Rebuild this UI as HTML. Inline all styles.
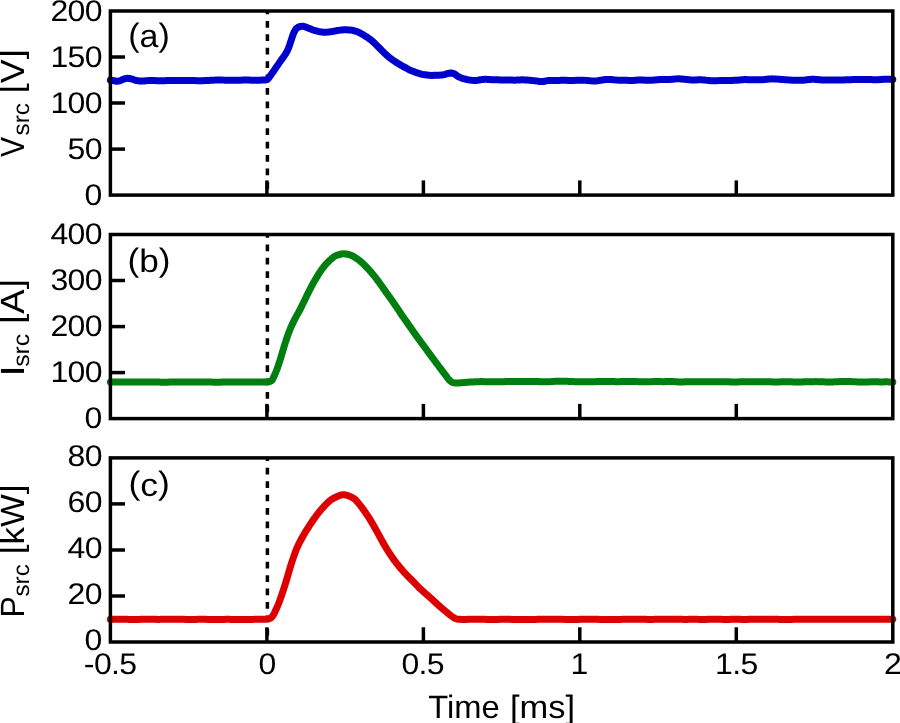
<!DOCTYPE html>
<html lang="en">
<head>
<meta charset="utf-8">
<title>Source voltage, current and power</title>
<style>
html,body{margin:0;padding:0;background:#fff;}
body{width:900px;height:723px;overflow:hidden;}
svg{display:block;}
text{font-family:"Liberation Sans",sans-serif;fill:#000;text-rendering:geometricPrecision;}
.tk{font-size:29.9px;letter-spacing:-0.6px;}
.lb{font-size:32.3px;}
.ly{font-size:33.6px;}
.sb{font-size:23.2px;}
</style>
</head>
<body>
<svg width="900" height="723" viewBox="0 0 900 723">
<rect width="900" height="723" fill="#fff"/>
<line x1="267.4" y1="11.0" x2="267.4" y2="195.1" stroke="#000" stroke-width="3.5" stroke-dasharray="6.71 6.71" stroke-dashoffset="3.5"/>
<line x1="266.9" y1="195.1" x2="266.9" y2="180.4" stroke="#000" stroke-width="3.5"/>
<line x1="423.4" y1="195.1" x2="423.4" y2="180.4" stroke="#000" stroke-width="3.5"/>
<line x1="579.8" y1="195.1" x2="579.8" y2="180.4" stroke="#000" stroke-width="3.5"/>
<line x1="736.3" y1="195.1" x2="736.3" y2="180.4" stroke="#000" stroke-width="3.5"/>
<text class="tk" transform="translate(84.62,205.22) scale(1.070,1)">0</text>
<line x1="110.4" y1="149.1" x2="125.0" y2="149.1" stroke="#000" stroke-width="3.5"/>
<text class="tk" transform="translate(67.50,159.19) scale(1.070,1)">50</text>
<line x1="110.4" y1="103.0" x2="125.0" y2="103.0" stroke="#000" stroke-width="3.5"/>
<text class="tk" transform="translate(50.38,113.17) scale(1.070,1)">100</text>
<line x1="110.4" y1="57.0" x2="125.0" y2="57.0" stroke="#000" stroke-width="3.5"/>
<text class="tk" transform="translate(50.38,67.15) scale(1.070,1)">150</text>
<text class="tk" transform="translate(50.38,20.52) scale(1.070,1)">200</text>
<path d="M110.4,80.10 L111.4,80.27 L112.4,80.44 L113.4,80.62 L114.4,80.79 L115.4,81.01 L116.4,81.18 L117.4,81.19 L118.4,81.05 L119.4,80.82 L120.4,80.54 L121.4,80.09 L122.4,79.61 L123.4,79.25 L124.4,78.92 L125.4,78.63 L126.4,78.40 L127.4,78.30 L128.4,78.34 L129.4,78.50 L130.4,78.72 L131.4,78.97 L132.4,79.22 L133.4,79.57 L134.4,79.96 L135.4,80.29 L136.4,80.49 L137.4,80.65 L138.4,80.80 L139.4,80.91 L140.4,80.97 L141.4,81.00 L142.4,81.00 L143.4,80.96 L144.4,80.90 L145.4,80.81 L146.4,80.72 L147.4,80.63 L148.4,80.55 L149.4,80.49 L150.4,80.47 L151.4,80.46 L152.4,80.47 L153.4,80.50 L154.4,80.54 L155.4,80.59 L156.4,80.64 L157.4,80.68 L158.4,80.72 L159.4,80.74 L160.4,80.75 L161.4,80.75 L162.4,80.73 L163.4,80.71 L164.4,80.68 L165.4,80.64 L166.4,80.60 L167.4,80.57 L168.4,80.53 L169.4,80.50 L170.4,80.48 L171.4,80.46 L172.4,80.46 L173.4,80.47 L174.4,80.48 L175.4,80.50 L176.4,80.53 L177.4,80.55 L178.4,80.58 L179.4,80.60 L180.4,80.61 L181.4,80.62 L182.4,80.62 L183.4,80.61 L184.4,80.59 L185.4,80.56 L186.4,80.53 L187.4,80.50 L188.4,80.48 L189.4,80.46 L190.4,80.45 L191.4,80.46 L192.4,80.48 L193.4,80.52 L194.4,80.56 L195.4,80.61 L196.4,80.66 L197.4,80.70 L198.4,80.73 L199.4,80.75 L200.4,80.74 L201.4,80.72 L202.4,80.69 L203.4,80.65 L204.4,80.61 L205.4,80.57 L206.4,80.53 L207.4,80.49 L208.4,80.44 L209.4,80.40 L210.4,80.35 L211.4,80.31 L212.4,80.25 L213.4,80.19 L214.4,80.12 L215.4,80.05 L216.4,79.99 L217.4,79.95 L218.4,79.94 L219.4,79.94 L220.4,79.97 L221.4,80.01 L222.4,80.06 L223.4,80.12 L224.4,80.17 L225.4,80.22 L226.4,80.26 L227.4,80.29 L228.4,80.31 L229.4,80.32 L230.4,80.31 L231.4,80.29 L232.4,80.28 L233.4,80.26 L234.4,80.25 L235.4,80.23 L236.4,80.21 L237.4,80.19 L238.4,80.18 L239.4,80.16 L240.4,80.14 L241.4,80.13 L242.4,80.11 L243.4,80.09 L244.4,80.07 L245.4,80.06 L246.4,80.05 L247.4,80.06 L248.4,80.08 L249.4,80.10 L250.4,80.14 L251.4,80.17 L252.4,80.21 L253.4,80.23 L254.4,80.25 L255.4,80.25 L256.4,80.24 L257.4,80.22 L258.4,80.19 L259.4,80.16 L260.4,80.13 L261.4,80.11 L262.4,80.09 L263.4,80.06 L264.4,80.03 L265.4,79.98 L266.4,79.83 L267.4,79.46 L268.4,78.32 L269.4,77.05 L270.4,75.71 L271.4,74.30 L272.4,72.85 L273.4,71.40 L274.4,69.96 L275.4,68.53 L276.4,67.08 L277.4,65.60 L278.4,64.12 L279.4,62.63 L280.4,61.15 L281.4,59.75 L282.4,58.40 L283.4,57.06 L284.4,55.67 L285.4,54.17 L286.4,52.49 L287.4,50.55 L288.4,48.33 L289.4,45.67 L290.4,42.65 L291.4,39.65 L292.4,36.49 L293.4,33.70 L294.4,31.58 L295.4,29.76 L296.4,28.45 L297.4,27.69 L298.4,27.12 L299.4,26.74 L300.4,26.50 L301.4,26.33 L302.4,26.25 L303.4,26.32 L304.4,26.55 L305.4,26.89 L306.4,27.30 L307.4,27.73 L308.4,28.11 L309.4,28.49 L310.4,28.88 L311.4,29.28 L312.4,29.66 L313.4,30.02 L314.4,30.34 L315.4,30.63 L316.4,30.92 L317.4,31.21 L318.4,31.47 L319.4,31.69 L320.4,31.85 L321.4,31.97 L322.4,32.09 L323.4,32.18 L324.4,32.24 L325.4,32.25 L326.4,32.21 L327.4,32.13 L328.4,32.03 L329.4,31.91 L330.4,31.78 L331.4,31.65 L332.4,31.48 L333.4,31.30 L334.4,31.09 L335.4,30.89 L336.4,30.70 L337.4,30.54 L338.4,30.40 L339.4,30.26 L340.4,30.13 L341.4,30.00 L342.4,29.90 L343.4,29.84 L344.4,29.82 L345.4,29.83 L346.4,29.84 L347.4,29.87 L348.4,29.90 L349.4,29.94 L350.4,29.99 L351.4,30.11 L352.4,30.29 L353.4,30.52 L354.4,30.80 L355.4,31.10 L356.4,31.41 L357.4,31.74 L358.4,32.15 L359.4,32.63 L360.4,33.17 L361.4,33.75 L362.4,34.35 L363.4,34.95 L364.4,35.54 L365.4,36.15 L366.4,36.79 L367.4,37.45 L368.4,38.13 L369.4,38.85 L370.4,39.58 L371.4,40.36 L372.4,41.20 L373.4,42.09 L374.4,43.03 L375.4,44.00 L376.4,44.98 L377.4,45.96 L378.4,46.96 L379.4,47.98 L380.4,49.02 L381.4,50.06 L382.4,51.08 L383.4,52.08 L384.4,53.05 L385.4,53.97 L386.4,54.88 L387.4,55.77 L388.4,56.64 L389.4,57.48 L390.4,58.29 L391.4,59.05 L392.4,59.78 L393.4,60.47 L394.4,61.14 L395.4,61.79 L396.4,62.43 L397.4,63.05 L398.4,63.67 L399.4,64.28 L400.4,64.87 L401.4,65.46 L402.4,66.03 L403.4,66.58 L404.4,67.13 L405.4,67.67 L406.4,68.20 L407.4,68.74 L408.4,69.27 L409.4,69.77 L410.4,70.25 L411.4,70.70 L412.4,71.11 L413.4,71.50 L414.4,71.88 L415.4,72.25 L416.4,72.60 L417.4,72.94 L418.4,73.25 L419.4,73.55 L420.4,73.84 L421.4,74.12 L422.4,74.36 L423.4,74.56 L424.4,74.72 L425.4,74.84 L426.4,74.96 L427.4,75.08 L428.4,75.19 L429.4,75.28 L430.4,75.35 L431.4,75.39 L432.4,75.38 L433.4,75.36 L434.4,75.33 L435.4,75.29 L436.4,75.26 L437.4,75.23 L438.4,75.20 L439.4,75.17 L440.4,75.12 L441.4,75.04 L442.4,74.94 L443.4,74.79 L444.4,74.58 L445.4,74.25 L446.4,73.89 L447.4,73.59 L448.4,73.38 L449.4,73.19 L450.4,73.06 L451.4,73.05 L452.4,73.22 L453.4,73.52 L454.4,73.89 L455.4,74.47 L456.4,75.26 L457.4,76.06 L458.4,76.68 L459.4,77.17 L460.4,77.61 L461.4,78.01 L462.4,78.36 L463.4,78.67 L464.4,78.95 L465.4,79.21 L466.4,79.45 L467.4,79.66 L468.4,79.85 L469.4,80.01 L470.4,80.14 L471.4,80.25 L472.4,80.36 L473.4,80.46 L474.4,80.53 L475.4,80.57 L476.4,80.54 L477.4,80.40 L478.4,80.19 L479.4,79.97 L480.4,79.76 L481.4,79.63 L482.4,79.52 L483.4,79.42 L484.4,79.36 L485.4,79.33 L486.4,79.35 L487.4,79.39 L488.4,79.45 L489.4,79.51 L490.4,79.58 L491.4,79.63 L492.4,79.68 L493.4,79.73 L494.4,79.76 L495.4,79.79 L496.4,79.82 L497.4,79.85 L498.4,79.87 L499.4,79.90 L500.4,79.92 L501.4,79.93 L502.4,79.94 L503.4,79.94 L504.4,79.94 L505.4,79.95 L506.4,79.96 L507.4,79.98 L508.4,80.01 L509.4,80.04 L510.4,80.06 L511.4,80.09 L512.4,80.12 L513.4,80.14 L514.4,80.14 L515.4,80.13 L516.4,80.10 L517.4,80.06 L518.4,80.00 L519.4,79.95 L520.4,79.90 L521.4,79.87 L522.4,79.86 L523.4,79.87 L524.4,79.90 L525.4,79.94 L526.4,80.00 L527.4,80.07 L528.4,80.15 L529.4,80.24 L530.4,80.33 L531.4,80.42 L532.4,80.51 L533.4,80.61 L534.4,80.71 L535.4,80.81 L536.4,80.95 L537.4,81.12 L538.4,81.29 L539.4,81.44 L540.4,81.55 L541.4,81.60 L542.4,81.57 L543.4,81.46 L544.4,81.29 L545.4,81.07 L546.4,80.85 L547.4,80.65 L548.4,80.49 L549.4,80.40 L550.4,80.38 L551.4,80.39 L552.4,80.41 L553.4,80.44 L554.4,80.46 L555.4,80.47 L556.4,80.47 L557.4,80.46 L558.4,80.43 L559.4,80.39 L560.4,80.34 L561.4,80.30 L562.4,80.26 L563.4,80.25 L564.4,80.26 L565.4,80.29 L566.4,80.34 L567.4,80.39 L568.4,80.45 L569.4,80.49 L570.4,80.51 L571.4,80.51 L572.4,80.48 L573.4,80.44 L574.4,80.39 L575.4,80.33 L576.4,80.27 L577.4,80.23 L578.4,80.19 L579.4,80.16 L580.4,80.15 L581.4,80.16 L582.4,80.19 L583.4,80.24 L584.4,80.30 L585.4,80.37 L586.4,80.45 L587.4,80.54 L588.4,80.63 L589.4,80.72 L590.4,80.81 L591.4,80.88 L592.4,80.95 L593.4,80.99 L594.4,81.00 L595.4,80.98 L596.4,80.91 L597.4,80.79 L598.4,80.64 L599.4,80.47 L600.4,80.29 L601.4,80.12 L602.4,79.95 L603.4,79.80 L604.4,79.67 L605.4,79.56 L606.4,79.49 L607.4,79.45 L608.4,79.45 L609.4,79.47 L610.4,79.52 L611.4,79.58 L612.4,79.66 L613.4,79.76 L614.4,79.86 L615.4,79.95 L616.4,80.04 L617.4,80.12 L618.4,80.18 L619.4,80.21 L620.4,80.22 L621.4,80.22 L622.4,80.23 L623.4,80.24 L624.4,80.26 L625.4,80.29 L626.4,80.32 L627.4,80.35 L628.4,80.38 L629.4,80.41 L630.4,80.42 L631.4,80.43 L632.4,80.42 L633.4,80.39 L634.4,80.34 L635.4,80.27 L636.4,80.19 L637.4,80.11 L638.4,80.03 L639.4,79.98 L640.4,79.96 L641.4,79.97 L642.4,80.01 L643.4,80.07 L644.4,80.14 L645.4,80.21 L646.4,80.27 L647.4,80.31 L648.4,80.33 L649.4,80.32 L650.4,80.28 L651.4,80.23 L652.4,80.16 L653.4,80.08 L654.4,80.00 L655.4,79.91 L656.4,79.82 L657.4,79.74 L658.4,79.66 L659.4,79.59 L660.4,79.54 L661.4,79.51 L662.4,79.49 L663.4,79.49 L664.4,79.49 L665.4,79.50 L666.4,79.51 L667.4,79.50 L668.4,79.48 L669.4,79.45 L670.4,79.41 L671.4,79.34 L672.4,79.25 L673.4,79.15 L674.4,79.04 L675.4,78.95 L676.4,78.87 L677.4,78.81 L678.4,78.79 L679.4,78.82 L680.4,78.89 L681.4,78.98 L682.4,79.08 L683.4,79.18 L684.4,79.28 L685.4,79.37 L686.4,79.44 L687.4,79.54 L688.4,79.65 L689.4,79.77 L690.4,79.89 L691.4,79.98 L692.4,80.04 L693.4,80.06 L694.4,80.04 L695.4,79.98 L696.4,79.91 L697.4,79.85 L698.4,79.81 L699.4,79.78 L700.4,79.79 L701.4,79.82 L702.4,79.87 L703.4,79.95 L704.4,80.04 L705.4,80.14 L706.4,80.25 L707.4,80.36 L708.4,80.46 L709.4,80.56 L710.4,80.65 L711.4,80.72 L712.4,80.77 L713.4,80.80 L714.4,80.80 L715.4,80.78 L716.4,80.74 L717.4,80.68 L718.4,80.62 L719.4,80.56 L720.4,80.51 L721.4,80.47 L722.4,80.46 L723.4,80.46 L724.4,80.47 L725.4,80.48 L726.4,80.50 L727.4,80.51 L728.4,80.51 L729.4,80.50 L730.4,80.47 L731.4,80.43 L732.4,80.39 L733.4,80.34 L734.4,80.29 L735.4,80.25 L736.4,80.20 L737.4,80.14 L738.4,80.07 L739.4,79.99 L740.4,79.90 L741.4,79.81 L742.4,79.72 L743.4,79.66 L744.4,79.61 L745.4,79.59 L746.4,79.60 L747.4,79.63 L748.4,79.68 L749.4,79.72 L750.4,79.75 L751.4,79.77 L752.4,79.78 L753.4,79.77 L754.4,79.76 L755.4,79.76 L756.4,79.76 L757.4,79.77 L758.4,79.78 L759.4,79.79 L760.4,79.79 L761.4,79.76 L762.4,79.71 L763.4,79.64 L764.4,79.54 L765.4,79.44 L766.4,79.32 L767.4,79.21 L768.4,79.10 L769.4,79.00 L770.4,78.93 L771.4,78.88 L772.4,78.87 L773.4,78.88 L774.4,78.92 L775.4,78.98 L776.4,79.05 L777.4,79.13 L778.4,79.21 L779.4,79.28 L780.4,79.36 L781.4,79.43 L782.4,79.51 L783.4,79.58 L784.4,79.66 L785.4,79.73 L786.4,79.80 L787.4,79.88 L788.4,79.95 L789.4,80.03 L790.4,80.10 L791.4,80.17 L792.4,80.22 L793.4,80.27 L794.4,80.30 L795.4,80.31 L796.4,80.31 L797.4,80.31 L798.4,80.30 L799.4,80.29 L800.4,80.28 L801.4,80.25 L802.4,80.22 L803.4,80.16 L804.4,80.08 L805.4,79.98 L806.4,79.86 L807.4,79.72 L808.4,79.60 L809.4,79.48 L810.4,79.39 L811.4,79.32 L812.4,79.29 L813.4,79.30 L814.4,79.34 L815.4,79.41 L816.4,79.50 L817.4,79.60 L818.4,79.69 L819.4,79.79 L820.4,79.86 L821.4,79.92 L822.4,79.95 L823.4,79.97 L824.4,79.97 L825.4,79.97 L826.4,79.97 L827.4,79.97 L828.4,79.98 L829.4,79.98 L830.4,79.98 L831.4,79.97 L832.4,79.96 L833.4,79.94 L834.4,79.93 L835.4,79.93 L836.4,79.94 L837.4,79.96 L838.4,79.98 L839.4,80.00 L840.4,80.01 L841.4,80.00 L842.4,79.98 L843.4,79.95 L844.4,79.90 L845.4,79.85 L846.4,79.80 L847.4,79.75 L848.4,79.70 L849.4,79.67 L850.4,79.64 L851.4,79.63 L852.4,79.62 L853.4,79.62 L854.4,79.62 L855.4,79.61 L856.4,79.60 L857.4,79.58 L858.4,79.56 L859.4,79.55 L860.4,79.54 L861.4,79.53 L862.4,79.53 L863.4,79.53 L864.4,79.53 L865.4,79.53 L866.4,79.53 L867.4,79.53 L868.4,79.54 L869.4,79.55 L870.4,79.58 L871.4,79.60 L872.4,79.63 L873.4,79.66 L874.4,79.69 L875.4,79.70 L876.4,79.70 L877.4,79.69 L878.4,79.66 L879.4,79.61 L880.4,79.55 L881.4,79.48 L882.4,79.40 L883.4,79.32 L884.4,79.26 L885.4,79.21 L886.4,79.18 L887.4,79.18 L888.4,79.21 L889.4,79.25 L890.4,79.31 L891.4,79.36 L892.8,79.40" fill="none" stroke="#0000cd" stroke-width="7.0" stroke-linecap="round" stroke-linejoin="round"/>
<rect x="110.4" y="11.0" width="782.4" height="184.1" fill="none" stroke="#000" stroke-width="3.5"/>
<text class="lb" transform="translate(128.30,47.45) scale(1.051,1)"><tspan dy="-1.3">(</tspan><tspan dy="1.3">a</tspan><tspan dy="-1.3">)</tspan></text>
<text class="ly" transform="translate(23.60,157.01) rotate(-90) scale(0.899,1)">V</text>
<text class="sb" transform="translate(28.60,135.46) rotate(-90) scale(1.050,1)">src</text>
<text class="ly" transform="translate(23.60,93.24) rotate(-90) scale(1.068,1)"><tspan dy="-2">[</tspan><tspan dy="2">V</tspan><tspan dy="-2">]</tspan></text>
<line x1="267.4" y1="234.5" x2="267.4" y2="418.6" stroke="#000" stroke-width="3.5" stroke-dasharray="6.71 6.71" stroke-dashoffset="3.5"/>
<line x1="266.9" y1="418.6" x2="266.9" y2="403.9" stroke="#000" stroke-width="3.5"/>
<line x1="423.4" y1="418.6" x2="423.4" y2="403.9" stroke="#000" stroke-width="3.5"/>
<line x1="579.8" y1="418.6" x2="579.8" y2="403.9" stroke="#000" stroke-width="3.5"/>
<line x1="736.3" y1="418.6" x2="736.3" y2="403.9" stroke="#000" stroke-width="3.5"/>
<text class="tk" transform="translate(84.62,428.42) scale(1.070,1)">0</text>
<line x1="110.4" y1="372.6" x2="125.0" y2="372.6" stroke="#000" stroke-width="3.5"/>
<text class="tk" transform="translate(50.38,382.40) scale(1.070,1)">100</text>
<line x1="110.4" y1="326.6" x2="125.0" y2="326.6" stroke="#000" stroke-width="3.5"/>
<text class="tk" transform="translate(50.38,335.77) scale(1.070,1)">200</text>
<line x1="110.4" y1="280.5" x2="125.0" y2="280.5" stroke="#000" stroke-width="3.5"/>
<text class="tk" transform="translate(50.38,290.35) scale(1.070,1)">300</text>
<text class="tk" transform="translate(50.38,244.32) scale(1.070,1)">400</text>
<path d="M110.4,381.96 L111.4,381.96 L112.4,381.98 L113.4,381.99 L114.4,382.01 L115.4,382.03 L116.4,382.05 L117.4,382.05 L118.4,382.05 L119.4,382.05 L120.4,382.03 L121.4,382.02 L122.4,382.01 L123.4,382.00 L124.4,381.99 L125.4,381.99 L126.4,381.99 L127.4,382.00 L128.4,382.01 L129.4,382.01 L130.4,382.02 L131.4,382.02 L132.4,382.02 L133.4,382.01 L134.4,382.00 L135.4,381.99 L136.4,381.97 L137.4,381.97 L138.4,381.97 L139.4,381.98 L140.4,382.00 L141.4,382.02 L142.4,382.04 L143.4,382.06 L144.4,382.07 L145.4,382.07 L146.4,382.06 L147.4,382.05 L148.4,382.04 L149.4,382.03 L150.4,382.02 L151.4,382.01 L152.4,382.01 L153.4,382.01 L154.4,382.01 L155.4,382.02 L156.4,382.04 L157.4,382.06 L158.4,382.08 L159.4,382.10 L160.4,382.13 L161.4,382.16 L162.4,382.19 L163.4,382.21 L164.4,382.23 L165.4,382.23 L166.4,382.22 L167.4,382.20 L168.4,382.16 L169.4,382.12 L170.4,382.07 L171.4,382.03 L172.4,381.98 L173.4,381.95 L174.4,381.93 L175.4,381.91 L176.4,381.92 L177.4,381.93 L178.4,381.95 L179.4,381.98 L180.4,382.00 L181.4,382.03 L182.4,382.04 L183.4,382.06 L184.4,382.07 L185.4,382.08 L186.4,382.09 L187.4,382.09 L188.4,382.10 L189.4,382.10 L190.4,382.10 L191.4,382.09 L192.4,382.08 L193.4,382.07 L194.4,382.07 L195.4,382.07 L196.4,382.07 L197.4,382.07 L198.4,382.07 L199.4,382.07 L200.4,382.06 L201.4,382.04 L202.4,382.02 L203.4,381.99 L204.4,381.96 L205.4,381.94 L206.4,381.92 L207.4,381.92 L208.4,381.94 L209.4,381.97 L210.4,382.01 L211.4,382.07 L212.4,382.13 L213.4,382.19 L214.4,382.23 L215.4,382.25 L216.4,382.26 L217.4,382.24 L218.4,382.21 L219.4,382.18 L220.4,382.14 L221.4,382.10 L222.4,382.07 L223.4,382.06 L224.4,382.05 L225.4,382.06 L226.4,382.06 L227.4,382.07 L228.4,382.07 L229.4,382.07 L230.4,382.06 L231.4,382.04 L232.4,382.02 L233.4,382.00 L234.4,381.97 L235.4,381.95 L236.4,381.94 L237.4,381.93 L238.4,381.94 L239.4,381.96 L240.4,381.98 L241.4,382.01 L242.4,382.04 L243.4,382.06 L244.4,382.08 L245.4,382.08 L246.4,382.07 L247.4,382.05 L248.4,382.02 L249.4,382.00 L250.4,381.97 L251.4,381.96 L252.4,381.95 L253.4,381.95 L254.4,381.95 L255.4,381.96 L256.4,381.97 L257.4,381.97 L258.4,381.98 L259.4,381.97 L260.4,381.97 L261.4,381.96 L262.4,381.95 L263.4,381.95 L264.4,381.95 L265.4,381.94 L266.4,381.93 L267.4,381.92 L268.4,381.83 L269.4,381.63 L270.4,381.34 L271.4,380.76 L272.4,379.76 L273.4,377.73 L274.4,375.52 L275.4,373.22 L276.4,370.74 L277.4,368.05 L278.4,365.15 L279.4,362.09 L280.4,358.95 L281.4,355.73 L282.4,352.34 L283.4,348.91 L284.4,345.60 L285.4,342.47 L286.4,339.40 L287.4,336.43 L288.4,333.61 L289.4,330.98 L290.4,328.54 L291.4,326.23 L292.4,324.04 L293.4,321.94 L294.4,319.91 L295.4,318.00 L296.4,316.18 L297.4,314.40 L298.4,312.62 L299.4,310.78 L300.4,308.86 L301.4,306.85 L302.4,304.80 L303.4,302.76 L304.4,300.72 L305.4,298.65 L306.4,296.57 L307.4,294.50 L308.4,292.46 L309.4,290.46 L310.4,288.53 L311.4,286.63 L312.4,284.76 L313.4,282.93 L314.4,281.14 L315.4,279.40 L316.4,277.71 L317.4,276.08 L318.4,274.47 L319.4,272.89 L320.4,271.37 L321.4,269.92 L322.4,268.54 L323.4,267.26 L324.4,266.04 L325.4,264.86 L326.4,263.72 L327.4,262.64 L328.4,261.61 L329.4,260.65 L330.4,259.76 L331.4,258.88 L332.4,258.03 L333.4,257.22 L334.4,256.51 L335.4,255.90 L336.4,255.44 L337.4,255.10 L338.4,254.78 L339.4,254.49 L340.4,254.24 L341.4,254.03 L342.4,253.88 L343.4,253.81 L344.4,253.81 L345.4,253.89 L346.4,254.02 L347.4,254.22 L348.4,254.46 L349.4,254.73 L350.4,255.03 L351.4,255.42 L352.4,255.90 L353.4,256.44 L354.4,257.04 L355.4,257.67 L356.4,258.32 L357.4,258.98 L358.4,259.70 L359.4,260.47 L360.4,261.29 L361.4,262.15 L362.4,263.05 L363.4,263.96 L364.4,264.92 L365.4,265.93 L366.4,266.97 L367.4,268.05 L368.4,269.15 L369.4,270.26 L370.4,271.39 L371.4,272.53 L372.4,273.70 L373.4,274.90 L374.4,276.13 L375.4,277.40 L376.4,278.70 L377.4,280.03 L378.4,281.39 L379.4,282.78 L380.4,284.18 L381.4,285.60 L382.4,287.01 L383.4,288.43 L384.4,289.86 L385.4,291.28 L386.4,292.69 L387.4,294.10 L388.4,295.50 L389.4,296.90 L390.4,298.29 L391.4,299.69 L392.4,301.09 L393.4,302.52 L394.4,303.96 L395.4,305.42 L396.4,306.91 L397.4,308.42 L398.4,309.93 L399.4,311.45 L400.4,312.95 L401.4,314.44 L402.4,315.90 L403.4,317.33 L404.4,318.75 L405.4,320.16 L406.4,321.58 L407.4,323.00 L408.4,324.44 L409.4,325.89 L410.4,327.34 L411.4,328.78 L412.4,330.22 L413.4,331.65 L414.4,333.07 L415.4,334.47 L416.4,335.87 L417.4,337.25 L418.4,338.63 L419.4,340.00 L420.4,341.36 L421.4,342.72 L422.4,344.06 L423.4,345.41 L424.4,346.75 L425.4,348.10 L426.4,349.46 L427.4,350.83 L428.4,352.20 L429.4,353.57 L430.4,354.95 L431.4,356.32 L432.4,357.69 L433.4,359.05 L434.4,360.40 L435.4,361.75 L436.4,363.09 L437.4,364.42 L438.4,365.75 L439.4,367.07 L440.4,368.39 L441.4,369.71 L442.4,371.03 L443.4,372.35 L444.4,373.67 L445.4,375.00 L446.4,376.40 L447.4,377.80 L448.4,379.09 L449.4,380.16 L450.4,381.04 L451.4,381.82 L452.4,382.35 L453.4,382.68 L454.4,382.93 L455.4,383.07 L456.4,383.08 L457.4,383.04 L458.4,382.98 L459.4,382.89 L460.4,382.79 L461.4,382.70 L462.4,382.63 L463.4,382.56 L464.4,382.48 L465.4,382.40 L466.4,382.33 L467.4,382.25 L468.4,382.17 L469.4,382.10 L470.4,382.03 L471.4,381.97 L472.4,381.92 L473.4,381.88 L474.4,381.83 L475.4,381.78 L476.4,381.73 L477.4,381.69 L478.4,381.65 L479.4,381.63 L480.4,381.61 L481.4,381.61 L482.4,381.62 L483.4,381.63 L484.4,381.65 L485.4,381.66 L486.4,381.66 L487.4,381.66 L488.4,381.65 L489.4,381.65 L490.4,381.64 L491.4,381.64 L492.4,381.65 L493.4,381.67 L494.4,381.69 L495.4,381.72 L496.4,381.74 L497.4,381.76 L498.4,381.78 L499.4,381.78 L500.4,381.77 L501.4,381.75 L502.4,381.72 L503.4,381.68 L504.4,381.65 L505.4,381.62 L506.4,381.60 L507.4,381.59 L508.4,381.59 L509.4,381.59 L510.4,381.58 L511.4,381.57 L512.4,381.55 L513.4,381.52 L514.4,381.49 L515.4,381.46 L516.4,381.43 L517.4,381.41 L518.4,381.40 L519.4,381.40 L520.4,381.41 L521.4,381.42 L522.4,381.44 L523.4,381.46 L524.4,381.47 L525.4,381.48 L526.4,381.48 L527.4,381.48 L528.4,381.48 L529.4,381.47 L530.4,381.46 L531.4,381.45 L532.4,381.45 L533.4,381.46 L534.4,381.47 L535.4,381.50 L536.4,381.54 L537.4,381.58 L538.4,381.62 L539.4,381.65 L540.4,381.68 L541.4,381.71 L542.4,381.73 L543.4,381.75 L544.4,381.76 L545.4,381.76 L546.4,381.76 L547.4,381.74 L548.4,381.72 L549.4,381.68 L550.4,381.62 L551.4,381.56 L552.4,381.49 L553.4,381.42 L554.4,381.36 L555.4,381.31 L556.4,381.28 L557.4,381.26 L558.4,381.26 L559.4,381.26 L560.4,381.26 L561.4,381.27 L562.4,381.27 L563.4,381.28 L564.4,381.29 L565.4,381.31 L566.4,381.33 L567.4,381.37 L568.4,381.41 L569.4,381.46 L570.4,381.50 L571.4,381.54 L572.4,381.58 L573.4,381.60 L574.4,381.63 L575.4,381.65 L576.4,381.68 L577.4,381.70 L578.4,381.73 L579.4,381.76 L580.4,381.78 L581.4,381.80 L582.4,381.81 L583.4,381.81 L584.4,381.80 L585.4,381.79 L586.4,381.77 L587.4,381.76 L588.4,381.74 L589.4,381.74 L590.4,381.73 L591.4,381.73 L592.4,381.72 L593.4,381.70 L594.4,381.67 L595.4,381.64 L596.4,381.61 L597.4,381.57 L598.4,381.54 L599.4,381.51 L600.4,381.48 L601.4,381.46 L602.4,381.44 L603.4,381.43 L604.4,381.41 L605.4,381.40 L606.4,381.39 L607.4,381.39 L608.4,381.40 L609.4,381.41 L610.4,381.44 L611.4,381.48 L612.4,381.52 L613.4,381.56 L614.4,381.60 L615.4,381.63 L616.4,381.65 L617.4,381.65 L618.4,381.65 L619.4,381.64 L620.4,381.62 L621.4,381.61 L622.4,381.60 L623.4,381.60 L624.4,381.61 L625.4,381.61 L626.4,381.62 L627.4,381.62 L628.4,381.62 L629.4,381.62 L630.4,381.61 L631.4,381.61 L632.4,381.60 L633.4,381.60 L634.4,381.60 L635.4,381.61 L636.4,381.61 L637.4,381.62 L638.4,381.63 L639.4,381.65 L640.4,381.68 L641.4,381.71 L642.4,381.75 L643.4,381.79 L644.4,381.83 L645.4,381.85 L646.4,381.86 L647.4,381.86 L648.4,381.84 L649.4,381.80 L650.4,381.75 L651.4,381.69 L652.4,381.63 L653.4,381.58 L654.4,381.54 L655.4,381.52 L656.4,381.51 L657.4,381.52 L658.4,381.54 L659.4,381.57 L660.4,381.60 L661.4,381.62 L662.4,381.64 L663.4,381.64 L664.4,381.63 L665.4,381.61 L666.4,381.58 L667.4,381.55 L668.4,381.53 L669.4,381.52 L670.4,381.51 L671.4,381.52 L672.4,381.55 L673.4,381.59 L674.4,381.65 L675.4,381.71 L676.4,381.77 L677.4,381.83 L678.4,381.88 L679.4,381.92 L680.4,381.94 L681.4,381.95 L682.4,381.93 L683.4,381.90 L684.4,381.85 L685.4,381.80 L686.4,381.75 L687.4,381.70 L688.4,381.66 L689.4,381.64 L690.4,381.63 L691.4,381.63 L692.4,381.65 L693.4,381.67 L694.4,381.69 L695.4,381.71 L696.4,381.73 L697.4,381.73 L698.4,381.73 L699.4,381.72 L700.4,381.71 L701.4,381.69 L702.4,381.68 L703.4,381.67 L704.4,381.67 L705.4,381.68 L706.4,381.69 L707.4,381.72 L708.4,381.74 L709.4,381.77 L710.4,381.79 L711.4,381.81 L712.4,381.82 L713.4,381.81 L714.4,381.80 L715.4,381.78 L716.4,381.76 L717.4,381.73 L718.4,381.71 L719.4,381.69 L720.4,381.67 L721.4,381.67 L722.4,381.66 L723.4,381.67 L724.4,381.68 L725.4,381.70 L726.4,381.73 L727.4,381.77 L728.4,381.81 L729.4,381.86 L730.4,381.91 L731.4,381.95 L732.4,381.99 L733.4,382.02 L734.4,382.02 L735.4,382.01 L736.4,381.99 L737.4,381.94 L738.4,381.90 L739.4,381.84 L740.4,381.79 L741.4,381.74 L742.4,381.70 L743.4,381.67 L744.4,381.65 L745.4,381.63 L746.4,381.64 L747.4,381.65 L748.4,381.67 L749.4,381.70 L750.4,381.73 L751.4,381.77 L752.4,381.80 L753.4,381.83 L754.4,381.85 L755.4,381.86 L756.4,381.86 L757.4,381.86 L758.4,381.86 L759.4,381.85 L760.4,381.84 L761.4,381.82 L762.4,381.81 L763.4,381.79 L764.4,381.78 L765.4,381.78 L766.4,381.78 L767.4,381.78 L768.4,381.80 L769.4,381.82 L770.4,381.84 L771.4,381.86 L772.4,381.89 L773.4,381.91 L774.4,381.93 L775.4,381.94 L776.4,381.94 L777.4,381.93 L778.4,381.91 L779.4,381.88 L780.4,381.86 L781.4,381.83 L782.4,381.81 L783.4,381.80 L784.4,381.80 L785.4,381.81 L786.4,381.82 L787.4,381.83 L788.4,381.84 L789.4,381.84 L790.4,381.85 L791.4,381.86 L792.4,381.87 L793.4,381.89 L794.4,381.91 L795.4,381.93 L796.4,381.95 L797.4,381.96 L798.4,381.97 L799.4,381.96 L800.4,381.95 L801.4,381.92 L802.4,381.89 L803.4,381.86 L804.4,381.82 L805.4,381.80 L806.4,381.78 L807.4,381.76 L808.4,381.75 L809.4,381.74 L810.4,381.72 L811.4,381.70 L812.4,381.68 L813.4,381.65 L814.4,381.63 L815.4,381.62 L816.4,381.62 L817.4,381.64 L818.4,381.67 L819.4,381.72 L820.4,381.76 L821.4,381.80 L822.4,381.84 L823.4,381.86 L824.4,381.87 L825.4,381.88 L826.4,381.88 L827.4,381.88 L828.4,381.89 L829.4,381.89 L830.4,381.90 L831.4,381.91 L832.4,381.90 L833.4,381.88 L834.4,381.85 L835.4,381.81 L836.4,381.76 L837.4,381.71 L838.4,381.66 L839.4,381.62 L840.4,381.59 L841.4,381.56 L842.4,381.55 L843.4,381.54 L844.4,381.54 L845.4,381.54 L846.4,381.54 L847.4,381.54 L848.4,381.55 L849.4,381.56 L850.4,381.58 L851.4,381.61 L852.4,381.65 L853.4,381.69 L854.4,381.74 L855.4,381.80 L856.4,381.84 L857.4,381.89 L858.4,381.92 L859.4,381.95 L860.4,381.96 L861.4,381.97 L862.4,381.97 L863.4,381.96 L864.4,381.95 L865.4,381.94 L866.4,381.93 L867.4,381.91 L868.4,381.90 L869.4,381.89 L870.4,381.87 L871.4,381.86 L872.4,381.84 L873.4,381.83 L874.4,381.82 L875.4,381.82 L876.4,381.83 L877.4,381.85 L878.4,381.87 L879.4,381.89 L880.4,381.90 L881.4,381.90 L882.4,381.90 L883.4,381.88 L884.4,381.87 L885.4,381.86 L886.4,381.86 L887.4,381.87 L888.4,381.88 L889.4,381.89 L890.4,381.91 L891.4,381.91 L892.8,381.91" fill="none" stroke="#007f10" stroke-width="7.0" stroke-linecap="round" stroke-linejoin="round"/>
<rect x="110.4" y="234.5" width="782.4" height="184.1" fill="none" stroke="#000" stroke-width="3.5"/>
<text class="lb" transform="translate(127.52,272.30) scale(1.090,1)"><tspan dy="-1.3">(</tspan><tspan dy="1.3">b</tspan><tspan dy="-1.3">)</tspan></text>
<text class="ly" transform="translate(23.60,376.76) rotate(-90) scale(1.250,1)">I</text>
<text class="sb" transform="translate(28.60,366.87) rotate(-90) scale(1.070,1)">src</text>
<text class="ly" transform="translate(23.60,323.77) rotate(-90) scale(1.084,1)"><tspan dy="-2">[</tspan><tspan dy="2">A</tspan><tspan dy="-2">]</tspan></text>
<line x1="267.4" y1="457.9" x2="267.4" y2="642.0" stroke="#000" stroke-width="3.5" stroke-dasharray="6.71 6.71" stroke-dashoffset="3.5"/>
<line x1="266.9" y1="642.0" x2="266.9" y2="627.3" stroke="#000" stroke-width="3.5"/>
<line x1="423.4" y1="642.0" x2="423.4" y2="627.3" stroke="#000" stroke-width="3.5"/>
<line x1="579.8" y1="642.0" x2="579.8" y2="627.3" stroke="#000" stroke-width="3.5"/>
<line x1="736.3" y1="642.0" x2="736.3" y2="627.3" stroke="#000" stroke-width="3.5"/>
<text class="tk" transform="translate(84.62,650.32) scale(1.070,1)">0</text>
<line x1="110.4" y1="596.0" x2="125.0" y2="596.0" stroke="#000" stroke-width="3.5"/>
<text class="tk" transform="translate(67.50,604.30) scale(1.070,1)">20</text>
<line x1="110.4" y1="550.0" x2="125.0" y2="550.0" stroke="#000" stroke-width="3.5"/>
<text class="tk" transform="translate(67.50,558.27) scale(1.070,1)">40</text>
<line x1="110.4" y1="503.9" x2="125.0" y2="503.9" stroke="#000" stroke-width="3.5"/>
<text class="tk" transform="translate(67.50,512.25) scale(1.070,1)">60</text>
<text class="tk" transform="translate(67.50,466.22) scale(1.070,1)">80</text>
<path d="M110.4,619.35 L111.4,619.32 L112.4,619.30 L113.4,619.29 L114.4,619.28 L115.4,619.28 L116.4,619.29 L117.4,619.30 L118.4,619.31 L119.4,619.32 L120.4,619.33 L121.4,619.33 L122.4,619.33 L123.4,619.33 L124.4,619.33 L125.4,619.33 L126.4,619.35 L127.4,619.36 L128.4,619.38 L129.4,619.40 L130.4,619.42 L131.4,619.43 L132.4,619.44 L133.4,619.44 L134.4,619.44 L135.4,619.44 L136.4,619.43 L137.4,619.41 L138.4,619.40 L139.4,619.38 L140.4,619.36 L141.4,619.34 L142.4,619.32 L143.4,619.29 L144.4,619.26 L145.4,619.24 L146.4,619.22 L147.4,619.20 L148.4,619.19 L149.4,619.20 L150.4,619.21 L151.4,619.23 L152.4,619.25 L153.4,619.28 L154.4,619.31 L155.4,619.34 L156.4,619.36 L157.4,619.38 L158.4,619.38 L159.4,619.38 L160.4,619.36 L161.4,619.34 L162.4,619.32 L163.4,619.29 L164.4,619.26 L165.4,619.24 L166.4,619.22 L167.4,619.20 L168.4,619.19 L169.4,619.18 L170.4,619.17 L171.4,619.17 L172.4,619.18 L173.4,619.19 L174.4,619.20 L175.4,619.21 L176.4,619.22 L177.4,619.24 L178.4,619.26 L179.4,619.28 L180.4,619.30 L181.4,619.31 L182.4,619.33 L183.4,619.35 L184.4,619.37 L185.4,619.38 L186.4,619.40 L187.4,619.42 L188.4,619.43 L189.4,619.45 L190.4,619.46 L191.4,619.46 L192.4,619.46 L193.4,619.45 L194.4,619.43 L195.4,619.40 L196.4,619.38 L197.4,619.35 L198.4,619.33 L199.4,619.32 L200.4,619.31 L201.4,619.30 L202.4,619.31 L203.4,619.32 L204.4,619.33 L205.4,619.35 L206.4,619.37 L207.4,619.39 L208.4,619.41 L209.4,619.42 L210.4,619.44 L211.4,619.45 L212.4,619.46 L213.4,619.48 L214.4,619.49 L215.4,619.51 L216.4,619.53 L217.4,619.54 L218.4,619.55 L219.4,619.54 L220.4,619.52 L221.4,619.50 L222.4,619.46 L223.4,619.42 L224.4,619.39 L225.4,619.36 L226.4,619.35 L227.4,619.34 L228.4,619.35 L229.4,619.36 L230.4,619.39 L231.4,619.42 L232.4,619.46 L233.4,619.49 L234.4,619.53 L235.4,619.56 L236.4,619.58 L237.4,619.58 L238.4,619.58 L239.4,619.57 L240.4,619.55 L241.4,619.53 L242.4,619.51 L243.4,619.49 L244.4,619.47 L245.4,619.45 L246.4,619.44 L247.4,619.43 L248.4,619.42 L249.4,619.42 L250.4,619.41 L251.4,619.40 L252.4,619.39 L253.4,619.38 L254.4,619.37 L255.4,619.35 L256.4,619.34 L257.4,619.32 L258.4,619.31 L259.4,619.29 L260.4,619.27 L261.4,619.24 L262.4,619.22 L263.4,619.19 L264.4,619.17 L265.4,619.14 L266.4,619.12 L267.4,619.08 L268.4,618.89 L269.4,618.59 L270.4,618.18 L271.4,617.44 L272.4,616.41 L273.4,615.04 L274.4,613.02 L275.4,610.80 L276.4,608.65 L277.4,606.41 L278.4,604.04 L279.4,601.50 L280.4,598.79 L281.4,595.92 L282.4,592.94 L283.4,589.87 L284.4,586.74 L285.4,583.61 L286.4,580.35 L287.4,576.96 L288.4,573.50 L289.4,570.06 L290.4,566.70 L291.4,563.52 L292.4,560.48 L293.4,557.49 L294.4,554.60 L295.4,551.86 L296.4,549.32 L297.4,547.00 L298.4,544.84 L299.4,542.81 L300.4,540.87 L301.4,539.01 L302.4,537.19 L303.4,535.42 L304.4,533.70 L305.4,532.02 L306.4,530.39 L307.4,528.80 L308.4,527.24 L309.4,525.71 L310.4,524.19 L311.4,522.71 L312.4,521.24 L313.4,519.79 L314.4,518.36 L315.4,516.95 L316.4,515.57 L317.4,514.23 L318.4,512.92 L319.4,511.66 L320.4,510.44 L321.4,509.27 L322.4,508.16 L323.4,507.08 L324.4,506.00 L325.4,504.94 L326.4,503.90 L327.4,502.89 L328.4,501.94 L329.4,501.05 L330.4,500.24 L331.4,499.52 L332.4,498.89 L333.4,498.36 L334.4,497.84 L335.4,497.32 L336.4,496.82 L337.4,496.34 L338.4,495.91 L339.4,495.52 L340.4,495.20 L341.4,494.96 L342.4,494.82 L343.4,494.77 L344.4,494.83 L345.4,494.96 L346.4,495.18 L347.4,495.46 L348.4,495.81 L349.4,496.20 L350.4,496.64 L351.4,497.12 L352.4,497.63 L353.4,498.16 L354.4,498.78 L355.4,499.64 L356.4,500.69 L357.4,501.88 L358.4,503.14 L359.4,504.41 L360.4,505.64 L361.4,506.92 L362.4,508.28 L363.4,509.66 L364.4,511.06 L365.4,512.47 L366.4,513.91 L367.4,515.39 L368.4,516.91 L369.4,518.49 L370.4,520.12 L371.4,521.80 L372.4,523.52 L373.4,525.27 L374.4,527.04 L375.4,528.82 L376.4,530.60 L377.4,532.37 L378.4,534.16 L379.4,535.98 L380.4,537.82 L381.4,539.66 L382.4,541.49 L383.4,543.30 L384.4,545.07 L385.4,546.77 L386.4,548.41 L387.4,550.01 L388.4,551.59 L389.4,553.13 L390.4,554.65 L391.4,556.14 L392.4,557.59 L393.4,559.01 L394.4,560.39 L395.4,561.73 L396.4,563.03 L397.4,564.30 L398.4,565.55 L399.4,566.77 L400.4,567.97 L401.4,569.14 L402.4,570.30 L403.4,571.44 L404.4,572.54 L405.4,573.62 L406.4,574.66 L407.4,575.68 L408.4,576.69 L409.4,577.69 L410.4,578.69 L411.4,579.71 L412.4,580.73 L413.4,581.76 L414.4,582.80 L415.4,583.84 L416.4,584.88 L417.4,585.91 L418.4,586.92 L419.4,587.92 L420.4,588.89 L421.4,589.85 L422.4,590.78 L423.4,591.69 L424.4,592.59 L425.4,593.48 L426.4,594.36 L427.4,595.23 L428.4,596.11 L429.4,596.98 L430.4,597.86 L431.4,598.74 L432.4,599.64 L433.4,600.54 L434.4,601.46 L435.4,602.39 L436.4,603.32 L437.4,604.25 L438.4,605.17 L439.4,606.08 L440.4,606.96 L441.4,607.83 L442.4,608.68 L443.4,609.52 L444.4,610.34 L445.4,611.16 L446.4,611.97 L447.4,612.80 L448.4,613.64 L449.4,614.49 L450.4,615.30 L451.4,616.06 L452.4,616.78 L453.4,617.49 L454.4,618.10 L455.4,618.52 L456.4,618.83 L457.4,619.08 L458.4,619.26 L459.4,619.32 L460.4,619.36 L461.4,619.38 L462.4,619.40 L463.4,619.41 L464.4,619.41 L465.4,619.40 L466.4,619.38 L467.4,619.36 L468.4,619.34 L469.4,619.31 L470.4,619.28 L471.4,619.25 L472.4,619.23 L473.4,619.20 L474.4,619.19 L475.4,619.18 L476.4,619.17 L477.4,619.18 L478.4,619.19 L479.4,619.21 L480.4,619.24 L481.4,619.26 L482.4,619.29 L483.4,619.32 L484.4,619.34 L485.4,619.36 L486.4,619.38 L487.4,619.39 L488.4,619.39 L489.4,619.40 L490.4,619.41 L491.4,619.41 L492.4,619.42 L493.4,619.42 L494.4,619.42 L495.4,619.42 L496.4,619.41 L497.4,619.40 L498.4,619.38 L499.4,619.36 L500.4,619.35 L501.4,619.33 L502.4,619.32 L503.4,619.31 L504.4,619.30 L505.4,619.30 L506.4,619.30 L507.4,619.30 L508.4,619.31 L509.4,619.32 L510.4,619.35 L511.4,619.38 L512.4,619.41 L513.4,619.45 L514.4,619.48 L515.4,619.51 L516.4,619.54 L517.4,619.55 L518.4,619.56 L519.4,619.56 L520.4,619.55 L521.4,619.53 L522.4,619.51 L523.4,619.50 L524.4,619.48 L525.4,619.46 L526.4,619.45 L527.4,619.44 L528.4,619.43 L529.4,619.43 L530.4,619.43 L531.4,619.42 L532.4,619.42 L533.4,619.42 L534.4,619.42 L535.4,619.41 L536.4,619.40 L537.4,619.37 L538.4,619.35 L539.4,619.32 L540.4,619.28 L541.4,619.25 L542.4,619.22 L543.4,619.20 L544.4,619.18 L545.4,619.17 L546.4,619.16 L547.4,619.16 L548.4,619.15 L549.4,619.14 L550.4,619.14 L551.4,619.14 L552.4,619.14 L553.4,619.15 L554.4,619.16 L555.4,619.18 L556.4,619.20 L557.4,619.22 L558.4,619.25 L559.4,619.27 L560.4,619.30 L561.4,619.32 L562.4,619.34 L563.4,619.36 L564.4,619.39 L565.4,619.40 L566.4,619.42 L567.4,619.43 L568.4,619.43 L569.4,619.44 L570.4,619.43 L571.4,619.43 L572.4,619.43 L573.4,619.43 L574.4,619.43 L575.4,619.43 L576.4,619.42 L577.4,619.41 L578.4,619.38 L579.4,619.35 L580.4,619.32 L581.4,619.28 L582.4,619.25 L583.4,619.22 L584.4,619.20 L585.4,619.19 L586.4,619.19 L587.4,619.19 L588.4,619.19 L589.4,619.19 L590.4,619.20 L591.4,619.20 L592.4,619.20 L593.4,619.21 L594.4,619.22 L595.4,619.24 L596.4,619.27 L597.4,619.30 L598.4,619.35 L599.4,619.40 L600.4,619.44 L601.4,619.49 L602.4,619.52 L603.4,619.55 L604.4,619.56 L605.4,619.56 L606.4,619.56 L607.4,619.54 L608.4,619.53 L609.4,619.52 L610.4,619.51 L611.4,619.50 L612.4,619.49 L613.4,619.48 L614.4,619.47 L615.4,619.46 L616.4,619.44 L617.4,619.43 L618.4,619.41 L619.4,619.40 L620.4,619.39 L621.4,619.38 L622.4,619.37 L623.4,619.36 L624.4,619.35 L625.4,619.33 L626.4,619.31 L627.4,619.30 L628.4,619.28 L629.4,619.28 L630.4,619.27 L631.4,619.28 L632.4,619.29 L633.4,619.30 L634.4,619.31 L635.4,619.32 L636.4,619.33 L637.4,619.33 L638.4,619.33 L639.4,619.32 L640.4,619.32 L641.4,619.32 L642.4,619.32 L643.4,619.33 L644.4,619.34 L645.4,619.35 L646.4,619.37 L647.4,619.38 L648.4,619.40 L649.4,619.40 L650.4,619.40 L651.4,619.40 L652.4,619.39 L653.4,619.38 L654.4,619.37 L655.4,619.36 L656.4,619.34 L657.4,619.32 L658.4,619.30 L659.4,619.29 L660.4,619.28 L661.4,619.27 L662.4,619.28 L663.4,619.28 L664.4,619.29 L665.4,619.30 L666.4,619.30 L667.4,619.29 L668.4,619.28 L669.4,619.25 L670.4,619.23 L671.4,619.20 L672.4,619.17 L673.4,619.16 L674.4,619.16 L675.4,619.17 L676.4,619.19 L677.4,619.22 L678.4,619.25 L679.4,619.29 L680.4,619.32 L681.4,619.34 L682.4,619.36 L683.4,619.38 L684.4,619.38 L685.4,619.39 L686.4,619.39 L687.4,619.38 L688.4,619.37 L689.4,619.36 L690.4,619.35 L691.4,619.34 L692.4,619.34 L693.4,619.34 L694.4,619.34 L695.4,619.35 L696.4,619.36 L697.4,619.37 L698.4,619.38 L699.4,619.39 L700.4,619.40 L701.4,619.41 L702.4,619.41 L703.4,619.41 L704.4,619.40 L705.4,619.39 L706.4,619.38 L707.4,619.36 L708.4,619.34 L709.4,619.33 L710.4,619.31 L711.4,619.30 L712.4,619.29 L713.4,619.29 L714.4,619.29 L715.4,619.29 L716.4,619.29 L717.4,619.30 L718.4,619.31 L719.4,619.33 L720.4,619.35 L721.4,619.37 L722.4,619.40 L723.4,619.43 L724.4,619.46 L725.4,619.47 L726.4,619.47 L727.4,619.45 L728.4,619.42 L729.4,619.39 L730.4,619.35 L731.4,619.31 L732.4,619.28 L733.4,619.26 L734.4,619.25 L735.4,619.26 L736.4,619.27 L737.4,619.29 L738.4,619.31 L739.4,619.34 L740.4,619.36 L741.4,619.38 L742.4,619.40 L743.4,619.41 L744.4,619.41 L745.4,619.41 L746.4,619.40 L747.4,619.38 L748.4,619.36 L749.4,619.34 L750.4,619.32 L751.4,619.30 L752.4,619.28 L753.4,619.27 L754.4,619.25 L755.4,619.23 L756.4,619.22 L757.4,619.20 L758.4,619.19 L759.4,619.18 L760.4,619.17 L761.4,619.18 L762.4,619.20 L763.4,619.23 L764.4,619.26 L765.4,619.29 L766.4,619.31 L767.4,619.32 L768.4,619.32 L769.4,619.31 L770.4,619.29 L771.4,619.27 L772.4,619.26 L773.4,619.25 L774.4,619.25 L775.4,619.27 L776.4,619.29 L777.4,619.33 L778.4,619.36 L779.4,619.39 L780.4,619.43 L781.4,619.47 L782.4,619.50 L783.4,619.54 L784.4,619.57 L785.4,619.59 L786.4,619.60 L787.4,619.59 L788.4,619.57 L789.4,619.54 L790.4,619.50 L791.4,619.46 L792.4,619.41 L793.4,619.37 L794.4,619.34 L795.4,619.31 L796.4,619.29 L797.4,619.28 L798.4,619.28 L799.4,619.29 L800.4,619.30 L801.4,619.31 L802.4,619.32 L803.4,619.32 L804.4,619.32 L805.4,619.32 L806.4,619.31 L807.4,619.30 L808.4,619.29 L809.4,619.28 L810.4,619.28 L811.4,619.27 L812.4,619.26 L813.4,619.25 L814.4,619.24 L815.4,619.23 L816.4,619.21 L817.4,619.19 L818.4,619.18 L819.4,619.17 L820.4,619.17 L821.4,619.17 L822.4,619.18 L823.4,619.19 L824.4,619.20 L825.4,619.21 L826.4,619.23 L827.4,619.24 L828.4,619.25 L829.4,619.26 L830.4,619.26 L831.4,619.26 L832.4,619.26 L833.4,619.25 L834.4,619.24 L835.4,619.23 L836.4,619.22 L837.4,619.22 L838.4,619.22 L839.4,619.22 L840.4,619.23 L841.4,619.24 L842.4,619.25 L843.4,619.26 L844.4,619.27 L845.4,619.27 L846.4,619.28 L847.4,619.28 L848.4,619.28 L849.4,619.28 L850.4,619.28 L851.4,619.27 L852.4,619.27 L853.4,619.25 L854.4,619.24 L855.4,619.22 L856.4,619.20 L857.4,619.19 L858.4,619.17 L859.4,619.16 L860.4,619.17 L861.4,619.18 L862.4,619.20 L863.4,619.23 L864.4,619.25 L865.4,619.27 L866.4,619.28 L867.4,619.29 L868.4,619.29 L869.4,619.29 L870.4,619.29 L871.4,619.29 L872.4,619.30 L873.4,619.30 L874.4,619.30 L875.4,619.29 L876.4,619.28 L877.4,619.27 L878.4,619.26 L879.4,619.24 L880.4,619.23 L881.4,619.22 L882.4,619.21 L883.4,619.21 L884.4,619.21 L885.4,619.21 L886.4,619.21 L887.4,619.22 L888.4,619.23 L889.4,619.24 L890.4,619.25 L891.4,619.26 L892.8,619.27" fill="none" stroke="#dd0000" stroke-width="7.0" stroke-linecap="round" stroke-linejoin="round"/>
<rect x="110.4" y="457.9" width="782.4" height="184.1" fill="none" stroke="#000" stroke-width="3.5"/>
<text class="lb" transform="translate(128.50,495.60) scale(1.100,1)"><tspan dy="-1.3">(</tspan><tspan dy="1.3">c</tspan><tspan dy="-1.3">)</tspan></text>
<text class="ly" transform="translate(23.60,617.42) rotate(-90) scale(0.951,1)">P</text>
<text class="sb" transform="translate(28.60,596.45) rotate(-90) scale(1.040,1)">src</text>
<text class="ly" transform="translate(23.60,554.16) rotate(-90) scale(1.037,1)"><tspan dy="-2">[</tspan><tspan dy="2">kW</tspan><tspan dy="-2">]</tspan></text>
<text class="tk" transform="translate(83.87,674.00) scale(1.070,1)">-0.5</text>
<text class="tk" transform="translate(258.41,674.00) scale(1.070,1)">0</text>
<text class="tk" transform="translate(401.42,674.00) scale(1.070,1)">0.5</text>
<text class="tk" transform="translate(570.50,674.00) scale(1.070,1)">1</text>
<text class="tk" transform="translate(715.11,674.00) scale(1.070,1)">1.5</text>
<text class="tk" transform="translate(884.00,674.00) scale(1.070,1)">2</text>
<text class="lb" transform="translate(428.24,717.50) scale(1.012,1)">Time</text>
<text class="lb" transform="translate(510.00,717.50) scale(1.067,1)">[ms]</text>
</svg>
</body>
</html>
